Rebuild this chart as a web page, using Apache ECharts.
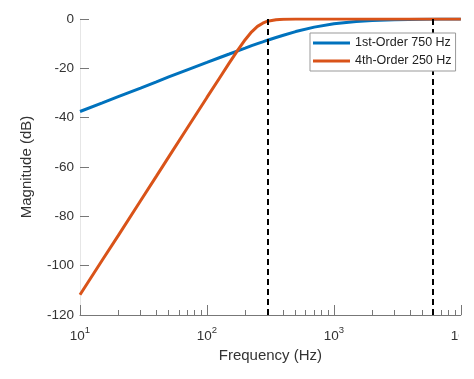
<!DOCTYPE html>
<html>
<head>
<meta charset="utf-8">
<script src="https://cdn.jsdelivr.net/npm/echarts@6/dist/echarts.min.js"></script>
<style>html,body{margin:0;padding:0;background:#fff}#c{width:474px;height:379px}</style>
</head>
<body>
<div id="c"></div>
<script>
var freqs = [10, 15, 20, 30, 40, 50, 70, 100, 125, 150, 175, 200, 225, 250, 275, 300, 350, 400, 500, 700, 1000, 1500, 2000, 3000, 5000, 7000, 10000];
// 1st-Order 750 Hz magnitude (dB)
var firstOrder = [-37.5, -34.0, -31.5, -28.0, -25.5, -23.5, -20.6, -17.6, -15.7, -14.2, -12.9, -11.8, -10.8, -10.0, -9.3, -8.6, -7.5, -6.6, -5.1, -3.3, -1.9, -1.0, -0.6, -0.3, -0.1, -0.05, -0.02];
// 4th-Order 250 Hz magnitude (dB)
var fourthOrder = [-111.8, -97.7, -87.8, -73.7, -63.7, -55.9, -44.2, -31.8, -24.1, -17.8, -12.6, -8.4, -5.2, -3.0, -1.7, -0.9, -0.3, -0.1, -0.02, 0, 0, 0, 0, 0, 0, 0, 0];
// Vertical dashed reference lines (Hz)
var cutoffLines = [300, 6000];
// Y tick values
var yMin = -120, yMax = 0, yStep = 20;
// Minor ticks of the log frequency axis
var minorTicks = [20, 30, 40, 50, 60, 70, 80, 90, 200, 300, 400, 500, 600, 700, 800, 900, 2000, 3000, 4000, 5000, 6000, 7000, 8000, 9000];
var seriesNames = ['1st-Order 750 Hz', '4th-Order 250 Hz'];

function pairs(ys) { return freqs.map(function (f, i) { return [f, ys[i]]; }); }

var font = 'Liberation Sans, Arial, sans-serif';
var chart = echarts.init(document.getElementById('c'));
chart.setOption({
  animation: false,
  textStyle: { fontFamily: font },
  grid: { left: 80, right: 13, top: 19, bottom: 64 },
  legend: {
    orient: 'vertical', left: 310, top: 33, z: 20,
    icon: 'rect',
    itemWidth: 37, itemHeight: 3, itemGap: 4,
    padding: [3, 4, 3, 3],
    borderColor: '#999', borderWidth: 1, backgroundColor: '#fff',
    textStyle: { fontSize: 12.5, color: '#222', fontFamily: font, lineHeight: 14 },
    data: seriesNames
  },
  xAxis: [{
    type: 'log', logBase: 10, min: 10, max: 10000,
    name: 'Frequency (Hz)', nameLocation: 'middle', nameGap: 32,
    nameTextStyle: { fontSize: 15, color: '#333', fontFamily: font },
    axisLine: { onZero: false, lineStyle: { color: '#777', width: 1 } },
    axisTick: { inside: true, length: 10, lineStyle: { color: '#777' } },
    splitLine: { show: false },
    minorTick: { show: false },
    axisLabel: {
      margin: 10, color: '#333',
      formatter: function (v) {
        var e = Math.round(Math.log10(v));
        return '{b|10}{s|' + e + '}';
      },
      rich: {
        b: { fontSize: 13.5, color: '#333', fontFamily: font, lineHeight: 18, verticalAlign: 'bottom' },
        s: { fontSize: 9.5, color: '#333', fontFamily: font, lineHeight: 18, verticalAlign: 'top' }
      }
    }
  }, {
    type: 'log', logBase: 10, min: 10, max: 10000, position: 'bottom',
    axisLine: { show: false, onZero: false },
    axisLabel: { show: false },
    splitLine: { show: false },
    axisTick: { inside: true, length: 5, lineStyle: { color: '#777' }, customValues: minorTicks }
  }],
  yAxis: {
    type: 'value', min: yMin, max: yMax, interval: yStep,
    name: 'Magnitude (dB)', nameLocation: 'middle', nameGap: 46,
    nameTextStyle: { fontSize: 15, color: '#333', fontFamily: font },
    axisLine: { show: true, onZero: false, lineStyle: { color: '#e6e6e6', width: 1 } },
    axisTick: { show: true, inside: true, length: 9, lineStyle: { color: '#777' } },
    splitLine: { show: false },
    axisLabel: { fontSize: 13.5, color: '#333', margin: 6 }
  },
  series: [{
    name: seriesNames[0], type: 'line', data: pairs(firstOrder),
    showSymbol: false, symbol: 'none',
    lineStyle: { color: '#0072BD', width: 3 }, itemStyle: { color: '#0072BD' }
  }, {
    name: seriesNames[1], type: 'line', data: pairs(fourthOrder),
    showSymbol: false, symbol: 'none',
    lineStyle: { color: '#D95319', width: 3 }, itemStyle: { color: '#D95319' },
    markLine: {
      silent: true, symbol: 'none', label: { show: false },
      lineStyle: { color: '#000', type: [6, 4], width: 2 },
      data: cutoffLines.map(function (f) { return { xAxis: f }; })
    }
  }],
  graphic: [{
    type: 'rect', shape: { x: 459, y: 320, width: 15, height: 26 },
    style: { fill: '#fff' }, z: 100
  }]
});
</script>
</body>
</html>
